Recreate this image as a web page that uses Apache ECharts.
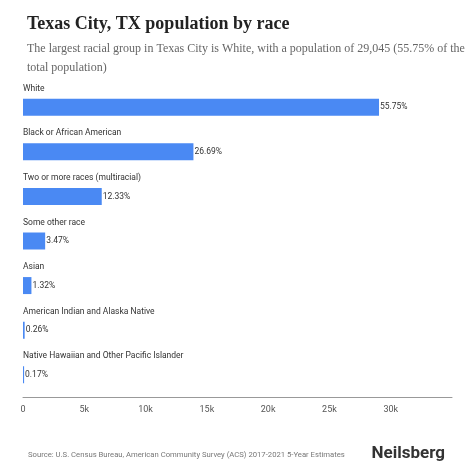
<!DOCTYPE html>
<html>
<head>
<meta charset="utf-8">
<script src="https://cdn.jsdelivr.net/npm/echarts@6/dist/echarts.min.js"></script>
<style>html,body{margin:0;padding:0;background:#fff}#main{width:474px;height:474px}</style>
</head>
<body>
<div id="main"></div>
<script>
// categories, top to bottom
const races = ['White', 'Black or African American', 'Two or more races (multiracial)', 'Some other race', 'Asian', 'American Indian and Alaska Native', 'Native Hawaiian and Other Pacific Islander'];
const population = [29045, 13905, 6424, 1808, 688, 135, 89];
const shares = ['55.75%', '26.69%', '12.33%', '3.47%', '1.32%', '0.26%', '0.17%'];
const xTicks = [0, 5000, 10000, 15000, 20000, 25000, 30000];

let chart = echarts.init(document.getElementById('main'));

const option = {
    animation: false,
    title: [
        {
            text: 'Texas City, TX population by race',
            left: 22, top: 10,
            textStyle: {fontFamily: 'Liberation Serif', fontWeight: 'bold', fontSize: 18, color: '#222'}
        },
        {
            text: 'The largest racial group in Texas City is White, with a population of 29,045 (55.75% of the\ntotal population)',
            left: 22, top: 34,
            textStyle: {fontFamily: 'Liberation Serif', fontWeight: 'normal', fontSize: 12, color: '#666', lineHeight: 19}
        },
        {
            text: 'Source: U.S. Census Bureau, American Community Survey (ACS) 2017-2021 5-Year Estimates',
            left: 23, top: 446,
            textStyle: {fontFamily: 'Roboto', fontWeight: 'normal', fontSize: 7.7, color: '#777'}
        },
        {
            text: 'Neilsberg',
            right: 24, top: 440,
            textStyle: {fontFamily: 'Roboto', fontWeight: 'bold', fontSize: 17, color: '#333'}
        }
    ],
    grid: {left: 23, right: 22, top: 85, bottom: 77},
    xAxis: {
        type: 'value',
        min: 0, max: 35000, interval: 5000,
        splitLine: {show: false},
        axisLine: {show: true, lineStyle: {color: '#999'}},
        axisTick: {show: false},
        axisLabel: {
            fontFamily: 'Roboto', fontSize: 9, color: '#555',
            formatter: v => xTicks.indexOf(v) < 0 ? '' : (v === 0 ? '0' : v / 1000 + 'k')
        }
    },
    yAxis: {
        type: 'category',
        data: races,
        inverse: true,
        axisLine: {show: false},
        axisTick: {show: false},
        axisLabel: {
            inside: true, margin: 0, align: 'left', verticalAlign: 'bottom',
            padding: [0, 0, 14, 0],
            fontFamily: 'Roboto', fontSize: 8.5, color: '#333'
        }
    },
    series: [{
        type: 'bar',
        data: population,
        barWidth: 17,
        itemStyle: {color: '#4a89f3'},
        label: {
            show: true, position: 'right', distance: 1,
            formatter: p => shares[p.dataIndex],
            fontFamily: 'Roboto', fontSize: 8.5, color: '#333'
        }
    }]
};

chart.setOption(option);
</script>
</body>
</html>
